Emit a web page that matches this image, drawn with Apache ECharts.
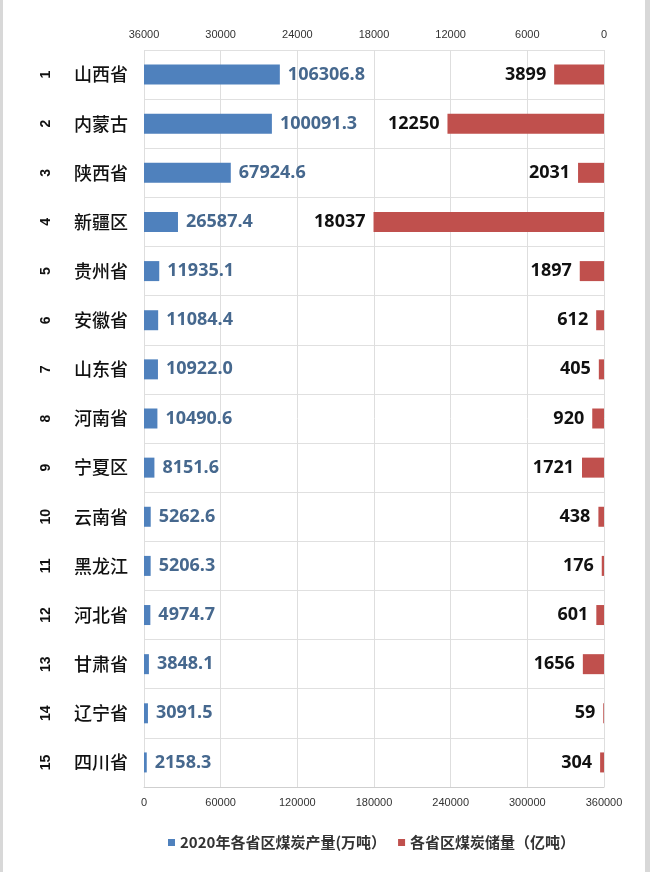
<!DOCTYPE html>
<html>
<head>
<meta charset="utf-8">
<script src="https://cdn.jsdelivr.net/npm/echarts@6/dist/echarts.min.js"></script>
<style>
    html, body { margin: 0; padding: 0; background: #fff; }
    #main { position: absolute; left: 0; top: 0; width: 650px; height: 872px; }
    #frame { position: absolute; left: 0; top: 0; width: 642px; height: 872px;
             border-left: 3px solid #d8d8d8; border-right: 5px solid #d8d8d8; pointer-events: none; }
</style>
</head>
<body>
<div id="main"></div>
<div id="frame"></div>
<script>
var ranks = ['1', '2', '3', '4', '5', '6', '7', '8', '9', '10', '11', '12', '13', '14', '15'];
var provinces = ['山西省', '内蒙古', '陕西省', '新疆区', '贵州省', '安徽省', '山东省', '河南省',
    '宁夏区', '云南省', '黑龙江', '河北省', '甘肃省', '辽宁省', '四川省'];
var output2020 = [106306.8, 100091.3, 67924.6, 26587.4, 11935.1, 11084.4, 10922.0, 10490.6,
    8151.6, 5262.6, 5206.3, 4974.7, 3848.1, 3091.5, 2158.3];
var reserves = [3899, 12250, 2031, 18037, 1897, 612, 405, 920, 1721, 438, 176, 601, 1656, 59, 304];

var seriesNames = ['2020年各省区煤炭产量(万吨）', '各省区煤炭储量（亿吨）'];

var chart = echarts.init(document.getElementById('main'));
var numFont = 'Open Sans';

function plain(v) { return String(v); }

var option = {
    backgroundColor: '#fff',
    animation: false,
    legend: {
        top: 830,
        left: 163,
        itemWidth: 7,
        itemHeight: 7,
        itemGap: 12,
        icon: 'rect',
        textStyle: { fontSize: 15, fontWeight: 'bold', color: '#333', fontFamily: 'Noto Sans CJK SC' },
        data: seriesNames
    },
    grid: { left: 144, right: 46, top: 50, bottom: 85 },
    xAxis: [
        {
            type: 'value',
            position: 'bottom',
            min: 0,
            max: 360000,
            interval: 60000,
            axisLine: { show: true, lineStyle: { color: '#cfcfcf' } },
            axisTick: { show: false },
            axisLabel: { fontSize: 11, color: '#333', margin: 10, fontFamily: 'Liberation Sans', formatter: plain },
            splitLine: { show: true, lineStyle: { color: '#dedede' } }
        },
        {
            type: 'value',
            position: 'top',
            inverse: true,
            min: 0,
            max: 36000,
            interval: 6000,
            axisLine: { show: false },
            axisTick: { show: false },
            axisLabel: { fontSize: 11, color: '#333', margin: 10, fontFamily: 'Liberation Sans', formatter: plain },
            splitLine: { show: false }
        }
    ],
    yAxis: [
        {
            type: 'category',
            inverse: true,
            data: provinces,
            axisLine: { show: false },
            axisTick: { show: false },
            axisLabel: { fontSize: 18, color: '#111', margin: 16, fontFamily: 'Noto Sans CJK SC', fontWeight: 500 },
            splitLine: { show: true, lineStyle: { color: '#e0e0e0' } }
        },
        {
            type: 'category',
            position: 'left',
            inverse: true,
            data: ranks,
            axisLine: { show: false },
            axisTick: { show: false },
            axisLabel: { rotate: 90, fontSize: 14, fontWeight: 'bold', color: '#111', margin: 91, fontFamily: 'Liberation Sans' },
            splitLine: { show: false }
        }
    ],
    series: [
        {
            name: seriesNames[0],
            type: 'bar',
            xAxisIndex: 0,
            yAxisIndex: 0,
            barWidth: 20,
            itemStyle: { color: '#4f81bd' },
            label: {
                show: true,
                position: 'right',
                distance: 8,
                color: '#46688e',
                fontSize: 18,
                fontWeight: 'bold',
                fontFamily: numFont,
                formatter: function (p) { return p.value.toFixed(1); }
            },
            data: output2020
        },
        {
            name: seriesNames[1],
            type: 'bar',
            xAxisIndex: 1,
            yAxisIndex: 1,
            barWidth: 20,
            itemStyle: { color: '#c0504d' },
            label: {
                show: true,
                position: 'left',
                distance: 8,
                color: '#111',
                fontSize: 18,
                fontWeight: 'bold',
                fontFamily: numFont
            },
            data: reserves
        }
    ]
};

chart.setOption(option);
</script>
</body>
</html>
